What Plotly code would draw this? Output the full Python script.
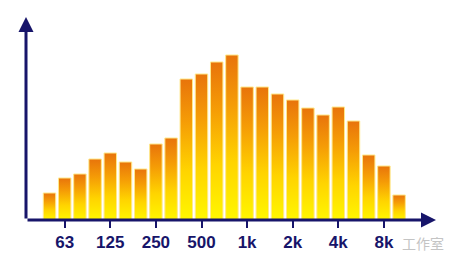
import plotly.graph_objects as go

# 1/3-octave band centre frequencies (Hz)
bands = [50, 63, 80, 100, 125, 160, 200, 250, 315, 400, 500, 630, 800,
         1000, 1250, 1600, 2000, 2500, 3150, 4000, 5000, 6300, 8000, 10000]
# relative level per band
levels = [27, 42, 46, 61, 67, 58, 51, 76, 82, 141, 146, 158, 165,
          133, 133, 126, 120, 112, 105, 113, 99, 65, 54, 25]
tick_freqs = [63, 125, 250, 500, 1000, 2000, 4000, 8000]
tick_labels = ["63", "125", "250", "500", "1k", "2k", "4k", "8k"]

NAVY = "#17156a"
W, H = 468, 265
ml, mr, mt, mb = 26, 32, 17, 45
px_per_unit = 15.2
x0 = -(49.5 - ml) / px_per_unit
x1 = x0 + (W - ml - mr) / px_per_unit
ytop = H - mt - mb

bar_w = 0.82
fig = go.Figure()
for i, (f, v) in enumerate(zip(bands, levels)):
    a, b = i - bar_w / 2, i + bar_w / 2
    fig.add_trace(go.Scatter(
        x=[a, a, b, b, a], y=[0, v, v, 0, 0],
        mode="lines", fill="toself",
        line=dict(color="#ffe98a", width=1),
        fillgradient=dict(type="vertical",
                          colorscale=[[0, "#fff700"], [0.35, "#ffd400"],
                                      [0.7, "#f59c06"], [1, "#e8740b"]]),
        hoverinfo="skip", showlegend=False,
    ))

tickvals = [bands.index(f) for f in tick_freqs]

fig.update_layout(
    width=W, height=H,
    margin=dict(l=ml, r=mr, t=mt, b=mb),
    paper_bgcolor="white", plot_bgcolor="white",
    xaxis=dict(range=[x0, x1], showgrid=False, zeroline=False, showline=False,
               tickvals=tickvals, ticktext=tick_labels,
               ticks="outside", ticklen=7, tickwidth=2, tickcolor=NAVY,
               tickfont=dict(family="Liberation Sans", size=17, color=NAVY,
                             weight="bold")),
    yaxis=dict(range=[0, ytop], showgrid=False, zeroline=False, showline=False,
               showticklabels=False, ticks=""),
    annotations=[
        dict(x=x1, y=0, ax=x0, ay=0, xref="x", yref="y", axref="x", ayref="y",
             showarrow=True, arrowhead=2, arrowsize=1, arrowwidth=3,
             arrowcolor=NAVY, text=""),
        dict(x=x0, y=ytop, ax=x0, ay=0, xref="x", yref="y", axref="x", ayref="y",
             showarrow=True, arrowhead=2, arrowsize=1, arrowwidth=3,
             arrowcolor=NAVY, text=""),
        dict(x=(400 - ml) / (W - ml - mr), y=-23 / ytop, xref="paper", yref="paper",
             xanchor="left", yanchor="middle",
             text="工作室", showarrow=False,
             font=dict(family="Noto Sans CJK SC", size=14, color="#c4c4c4")),
    ],
)

fig.write_html("out.html")
